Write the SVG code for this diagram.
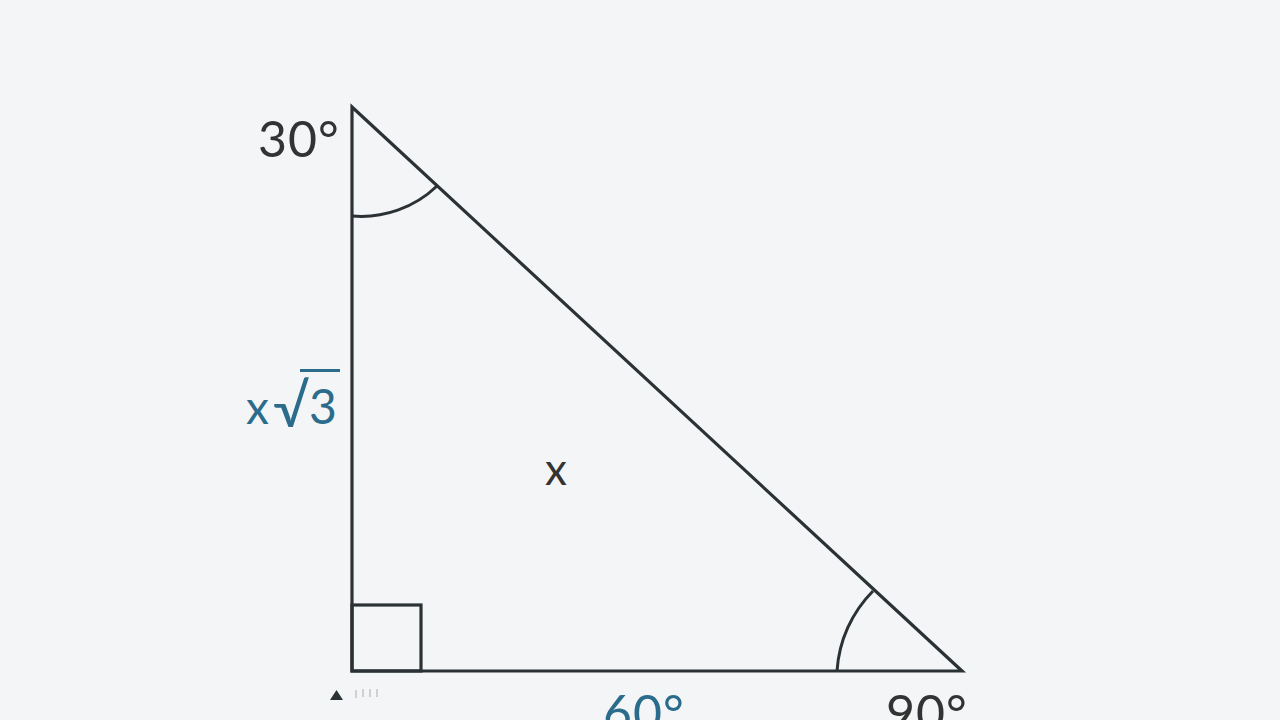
<svg xmlns="http://www.w3.org/2000/svg" width="1280" height="720" viewBox="0 0 1280 720">
<style>
.ln{fill:none;stroke:#2b3235;stroke-width:3.2;stroke-linejoin:miter}
.arc{fill:none;stroke:#2b3235;stroke-width:3}
.dk{font-family:Lato,"Open Sans","Liberation Sans",sans-serif;fill:#333;font-weight:400}
.tl{font-family:Lato,"Open Sans","Liberation Sans",sans-serif;fill:#2b6c8c;font-weight:400}
</style>
<rect width="1280" height="720" fill="#f4f5f6"/>
<g id="triangle">
<polygon class="ln" points="352,107 352,671 962,671"/>
<rect class="ln" x="352" y="605" width="69" height="66"/>
</g>
<g id="angles">
<path class="arc" d="M352,216 A109,109 0 0 0 437,186"/>
<path class="arc" d="M837,671 A125,125 0 0 1 873,591"/>
</g>
<g id="labels">
<text class="dk" x="258" y="157" font-size="50" letter-spacing="1">30°</text>
<g id="label-xroot3">
<text class="tl" x="246" y="424" font-size="46">x</text>
<text class="tl" x="273" y="427" font-size="58">√</text>
<text class="tl" x="309" y="424" font-size="48">3</text>
<line x1="300" y1="370.5" x2="340" y2="370.5" stroke="#2b6c8c" stroke-width="3"/>
</g>
<text class="dk" x="556" y="485" font-size="44" text-anchor="middle">x</text>
<text class="tl" x="603" y="731" font-size="50" letter-spacing="1">60°</text>
<text class="dk" x="886" y="731" font-size="50" letter-spacing="1">90°</text>
</g>
<g id="marks">
<polygon points="330,700 343,700 336.5,690" fill="#2b3235"/>
<g stroke="#b5b9bc" stroke-width="1.2">
<line x1="356" y1="690" x2="356" y2="698"/>
<line x1="363" y1="689" x2="363" y2="697"/>
<line x1="370" y1="689" x2="370" y2="697"/>
<line x1="377" y1="689" x2="377" y2="697"/>
</g>
</g>
</svg>
